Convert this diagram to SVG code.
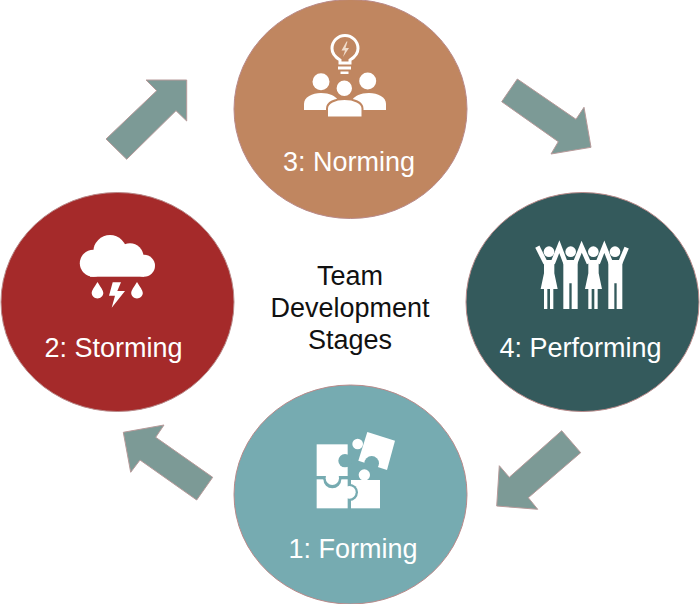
<svg xmlns="http://www.w3.org/2000/svg" width="700" height="604" viewBox="0 0 700 604">
<style>
.c{stroke:#b98a8a;stroke-width:1}
.a{fill:#7c9a96;stroke:#b79a9a;stroke-width:1}
.l{font-family:"Liberation Sans",Arial,sans-serif;font-size:27px;fill:#fff;text-anchor:middle}
.t{font-family:"Liberation Sans",Arial,sans-serif;font-size:27px;fill:#111;text-anchor:middle}
.w{fill:#fff}
.tl{fill:#76abb1}
</style>
<rect width="700" height="604" fill="#fff"/>
<g id="connectors">
<polygon class="a" points="106,139 126.7,159.3 176,110.7 186.7,121 186.7,80 146,80 156.7,90.7"/>
<polygon class="a" points="517.3,79 501.7,101.7 558.3,141.7 551,154 591,147.3 584,107.3 576,119.3"/>
<polygon class="a" points="561.7,430.7 580.7,452.7 528.3,497.7 537.7,509.3 496.7,506 499.3,465.7 509.3,477.3"/>
<polygon class="a" points="212.7,477.3 196.7,500 140,460 130.7,472.3 123.3,432.3 164,425 155.7,437.3"/>
</g>
<g id="norming">
<ellipse class="c" cx="350.500" cy="109" rx="116.500" ry="109.500" fill="#c08660"/>
<path d="M340 63v-3c-5-3-8-6-8-11.500a13 13 0 0 1 26 0c0 5.500-3 8.500-8 11.500v3z" fill="none" stroke="#fff" stroke-width="3"/>
<path class="w" d="M338 66.500h13v3h-13zM340.500 71.500h8v2.500h-8z"/>
<path d="M346.500 41.500l-5 9h3.500l-2 6.500 6-9h-3.500l2-6.500z" fill="#f0dccb"/>
<circle class="w" cx="321" cy="81.700" r="8.500"/><circle class="w" cx="367.700" cy="81" r="8.500"/>
<path class="w" d="M304 110v-6c0-7 8-11 17-11s14 3 17 7l-10 10z"/>
<path class="w" d="M386 110v-6c0-7-8-11-17-11s-14 3-17 7l10 10z"/>
<circle class="w" cx="344.300" cy="88.300" r="8.700" stroke="#c08660" stroke-width="2"/>
<path class="w" d="M327 117.500v-9c0-6 8-9.500 17.500-9.500s18 3.500 18 9.500v9z" stroke="#c08660" stroke-width="2"/>
<text class="l" x="349" y="171">3: Norming</text>
</g>
<g id="storming">
<ellipse class="c" cx="117.500" cy="302" rx="116.500" ry="109.500" fill="#a52a2a"/>
<circle class="w" cx="93.300" cy="263.300" r="13.500"/><circle class="w" cx="110" cy="251.700" r="16.700"/><circle class="w" cx="130" cy="256.700" r="13.500"/><circle class="w" cx="144" cy="265.700" r="11"/>
<rect class="w" x="90" y="258" width="54" height="18.700"/>
<path class="w" d="M97.500 282c3 5 5.800 8.300 5.800 11 0 3-2.600 5.400-5.800 5.400s-5.800-2.400-5.800-5.400c0-2.700 2.800-6 5.800-11zM137 282c3 5 5.800 8.300 5.800 11 0 3-2.600 5.400-5.800 5.400s-5.800-2.400-5.800-5.400c0-2.700 2.800-6 5.800-11z"/>
<polygon class="w" points="112.700,282.300 121,282.300 117.300,291 125,291 111.700,307.700 115,295.700 109,295.700"/>
<text class="l" x="113.500" y="357">2: Storming</text>
</g>
<g id="performing">
<ellipse class="c" cx="582.500" cy="302" rx="116.500" ry="109.500" fill="#345a5c"/>
<g transform="translate(525,235) scale(.3333)">
<polyline points="37,35 62,85" fill="none" stroke="#fff" stroke-width="14"/>
<polyline points="83,85 103,35 122,85" fill="none" stroke="#fff" stroke-width="14"/>
<polyline points="150,85 170,35 192,85" fill="none" stroke="#fff" stroke-width="14"/>
<polyline points="218,85 238,35 258,85" fill="none" stroke="#fff" stroke-width="14"/>
<polyline points="285,85 305,38" fill="none" stroke="#fff" stroke-width="14"/>
<circle class="w" cx="72" cy="50" r="16"/><circle class="w" cx="137" cy="50" r="16"/><circle class="w" cx="205" cy="50" r="16"/><circle class="w" cx="270" cy="50" r="16"/>
<polygon class="w" points="57,75 88,75 88,115 98,162 85,162 85,222 75,222 75,162 67,162 67,222 57,222 57,162 47,162 57,115"/>
<polygon class="w" points="115,75 158,75 158,222 140,222 140,145 133,145 133,222 115,222"/>
<polygon class="w" points="190,75 221,75 221,115 231,162 218,162 218,222 208,222 208,162 200,162 200,222 190,222 190,162 180,162 190,115"/>
<polygon class="w" points="250,75 292,75 292,222 275,222 275,145 268,145 268,222 250,222"/>
</g>
<text class="l" x="580.500" y="357">4: Performing</text>
</g>
<g id="forming">
<ellipse class="c" cx="350.500" cy="494.500" rx="116.500" ry="109.500" fill="#76abb1"/>
<g transform="translate(305,420) scale(.3333)">
<rect class="w" x="138" y="180" width="87" height="85"/>
<circle class="tl" cx="133" cy="217" r="26"/>
<rect class="w" x="35" y="178" width="93" height="87"/>
<circle class="w" cx="133" cy="217" r="19"/>
<circle class="tl" cx="82" cy="178" r="27"/>
<rect class="w" x="35" y="73" width="93" height="95"/>
<circle class="w" cx="82" cy="175" r="20"/>
<circle class="tl" cx="120" cy="122" r="20"/>
<polygon class="w" points="187,36 270,62 246,150 160,122"/>
<circle class="w" cx="158" cy="72" r="16"/>
<circle class="tl" cx="200" cy="130" r="22"/>
<circle class="w" cx="178" cy="165" r="17"/>
</g>
<text class="l" x="353" y="558">1: Forming</text>
</g>
<g id="center">
<text class="t" x="350" y="285">Team</text>
<text class="t" x="350" y="317">Development</text>
<text class="t" x="350" y="349">Stages</text>
</g>
</svg>
